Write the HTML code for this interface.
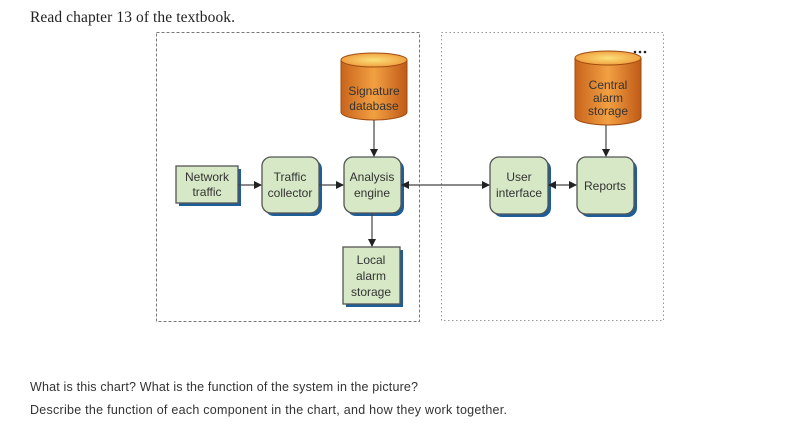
<!DOCTYPE html>
<html><head><meta charset="utf-8"><style>
html,body{margin:0;padding:0;background:#fff;width:807px;height:430px;overflow:hidden}
svg{display:block}
.b{font-family:"Liberation Sans",sans-serif;font-size:12.5px;fill:#333}
</style></head><body>
<svg width="807" height="430" viewBox="0 0 807 430" xmlns="http://www.w3.org/2000/svg">
<defs>
<marker id="a" markerWidth="8" markerHeight="8" refX="7" refY="4" orient="auto" markerUnits="userSpaceOnUse"><path d="M0,0 L8,4 L0,8 z" fill="#222"/></marker>
<marker id="s" markerWidth="8" markerHeight="8" refX="1" refY="4" orient="auto" markerUnits="userSpaceOnUse"><path d="M8,0 L0,4 L8,8 z" fill="#222"/></marker>
<linearGradient id="cy" x1="0" x2="1"><stop offset="0" stop-color="#c8641c"/><stop offset="0.5" stop-color="#f2a042"/><stop offset="1" stop-color="#c05a18"/></linearGradient>
<radialGradient id="top"><stop offset="0" stop-color="#fbe27a"/><stop offset="1" stop-color="#f0a040"/></radialGradient>
</defs>
<text x="30" y="22" font-family="Liberation Serif,serif" font-size="15.5" fill="#222" textLength="205">Read chapter 13 of the textbook.</text>
<rect x="156.5" y="32.5" width="263" height="289" fill="none" stroke="#777" stroke-dasharray="3,2"/>
<rect x="441.5" y="32.5" width="222" height="288" fill="none" stroke="#999" stroke-dasharray="1.5,2.5"/>
<g fill="#222"><circle cx="635" cy="52" r="1.3"/><circle cx="640" cy="52" r="1.3"/><circle cx="645" cy="52" r="1.3"/></g>
<g stroke="#a04c10" stroke-width="1">
<path d="M341,60 v52 a33,8 0 0 0 66,0 v-52" fill="url(#cy)"/>
<ellipse cx="374" cy="60" rx="33" ry="7" fill="url(#top)"/>
<path d="M575,58 v59 a33,8 0 0 0 66,0 v-59" fill="url(#cy)"/>
<ellipse cx="608" cy="58" rx="33" ry="7" fill="url(#top)"/>
</g>
<g font-family="Liberation Sans,sans-serif" font-size="12" fill="#333" text-anchor="middle">
<text x="374" y="95">Signature</text><text x="374" y="110">database</text>
<text x="608" y="89">Central</text><text x="608" y="102">alarm</text><text x="608" y="115">storage</text>
</g>
<g stroke="#555" stroke-width="1.3" fill="#d6e8c6">
<rect x="179" y="169" width="62" height="37" fill="#1d5e9a" stroke="none"/>
<rect x="176" y="166" width="62" height="37"/>
<rect x="265" y="160" width="57" height="56" rx="9" fill="#1d5e9a" stroke="none"/>
<rect x="262" y="157" width="57" height="56" rx="9"/>
<rect x="347" y="160" width="57" height="56" rx="9" fill="#1d5e9a" stroke="none"/>
<rect x="344" y="157" width="57" height="56" rx="9"/>
<rect x="346" y="250" width="57" height="57" fill="#1d5e9a" stroke="none"/>
<rect x="343" y="247" width="57" height="57"/>
<rect x="493" y="160" width="58" height="57" rx="9" fill="#1d5e9a" stroke="none"/>
<rect x="490" y="157" width="58" height="57" rx="9"/>
<rect x="580" y="160" width="57" height="57" rx="9" fill="#1d5e9a" stroke="none"/>
<rect x="577" y="157" width="57" height="57" rx="9"/>
</g>
<g font-family="Liberation Sans,sans-serif" font-size="12" fill="#333" text-anchor="middle">
<text x="207" y="181">Network</text><text x="207" y="196">traffic</text>
<text x="290" y="181">Traffic</text><text x="290" y="197">collector</text>
<text x="372" y="181">Analysis</text><text x="372" y="197">engine</text>
<text x="371" y="264">Local</text><text x="371" y="280">alarm</text><text x="371" y="296">storage</text>
<text x="519" y="181">User</text><text x="519" y="197">interface</text>
<text x="605" y="190">Reports</text>
</g>
<g stroke="#444" stroke-width="1.2" fill="none">
<line x1="238" y1="185" x2="261" y2="185" marker-end="url(#a)"/>
<line x1="319" y1="185" x2="343" y2="185" marker-end="url(#a)"/>
<line x1="374" y1="120" x2="374" y2="156" marker-end="url(#a)"/>
<line x1="372" y1="213" x2="372" y2="246" marker-end="url(#a)"/>
<line x1="402" y1="185" x2="489" y2="185" marker-start="url(#s)" marker-end="url(#a)"/>
<line x1="549" y1="185" x2="576" y2="185" marker-start="url(#s)" marker-end="url(#a)"/>
<line x1="606" y1="125" x2="606" y2="156" marker-end="url(#a)"/>
</g>
<text class="b" x="30" y="391" textLength="388">What is this chart? What is the function of the system in the picture?</text>
<text class="b" x="30" y="414" textLength="477">Describe the function of each component in the chart, and how they work together.</text>
</svg>
</body></html>
